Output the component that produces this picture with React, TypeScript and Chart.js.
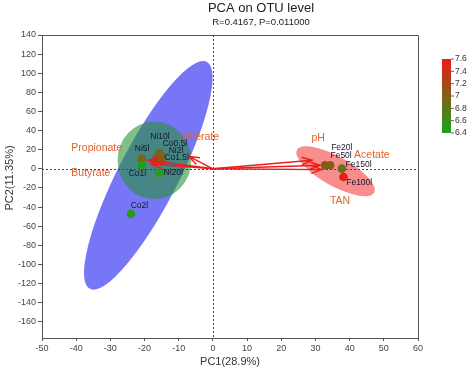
import React, { useEffect, useRef } from "react";
import { Chart, registerables } from "chart.js";
Chart.register(...registerables);

const FONT = "'Liberation Sans', Arial, Helvetica, sans-serif";

// Samples
const sampleNames = ["Ni10l", "Co0.5l", "Ni2l", "Co1.5l", "Ni5l", "Co1l", "Ni20l", "Co2l", "Fe20l", "Fe50l", "Fe150l", "Fe100l"];
const samplePC1 = [-15.7, -15.0, -16.5, -15.0, -20.8, -20.8, -15.7, -24.0, 32.8, 34.3, 37.7, 38.2];
const samplePC2 = [16.6, 13.0, 10.7, 8.9, 10.7, 3.7, -4.4, -47.0, 3.7, 3.7, 0.2, -8.6];
const samplePH = [6.9, 6.95, 7.05, 7.0, 6.95, 6.45, 6.45, 6.5, 7.0, 7.02, 6.85, 7.55];
const sampleLabelX = [-15.5, -11.1, -10.8, -10.6, -20.7, -22.1, -11.6, -21.5, 37.7, 37.5, 42.6, 42.8];
const sampleLabelY = [33.3, 26.4, 19.4, 11.7, 21.2, -5, -4, -38.3, 22.2, 13.4, 4.7, -14.9];

// Environmental factor vectors
const envNames = ["Propionate", "Butyrate", "Valerate", "pH", "Acetate", "TAN"];
const envPC1 = [-19, -18, -7, 29, 31.3, 31.8];
const envPC2 = [9, 5, 13, 9, 3.7, -0.8];
const envLabelX = [-34, -35.7, -3.8, 30.8, 46.5, 37.2];
const envLabelY = [21.2, -4, 32.7, 31.7, 14, -33.7];

// Group confidence ellipses (center, end of major axis, minor semi-axis in PC1 units)
const ellCX = [-18.9, -17.1, 35.9];
const ellCY = [-6.8, 8.9, -2.6];
const ellEndX = [-1.8, -17.1, 24.6];
const ellEndY = [112, 49.5, 19.8];
const ellMinor = [8.8, 10.8, 4.3];
const ellColor = ["rgba(80,80,245,0.78)", "rgba(35,145,50,0.58)", "rgba(242,80,80,0.65)"];

// Ticks
const xTicks = [-50, -40, -30, -20, -10, 0, 10, 20, 30, 40, 50, 60];
const yTicks = [140, 120, 100, 80, 60, 40, 20, 0, -20, -40, -60, -80, -100, -120, -140, -160];
const colorbarTicks = [7.6, 7.4, 7.2, 7, 6.8, 6.6, 6.4];

const PH_MIN = 6.4;
const PH_MAX = 7.6;
const GREEN = [25, 165, 25];
const RED = [235, 25, 25];

function phColor(p: number): string {
  const t = Math.max(0, Math.min(1, (p - PH_MIN) / (PH_MAX - PH_MIN)));
  const c = GREEN.map((g, i) => Math.round(g + t * (RED[i] - g)));
  return `rgb(${c[0]},${c[1]},${c[2]})`;
}

const overlay = {
  id: "overlay",
  beforeDatasetsDraw(chart: any) {
    const { ctx, chartArea: a, scales } = chart;
    const x = scales.x;
    const y = scales.y;
    ctx.save();
    ctx.beginPath();
    ctx.rect(a.left, a.top, a.right - a.left, a.bottom - a.top);
    ctx.clip();
    for (let i = 0; i < ellCX.length; i++) {
      const cx = x.getPixelForValue(ellCX[i]);
      const cy = y.getPixelForValue(ellCY[i]);
      const ex = x.getPixelForValue(ellEndX[i]);
      const ey = y.getPixelForValue(ellEndY[i]);
      const ra = Math.hypot(ex - cx, ey - cy);
      const rb = Math.abs(x.getPixelForValue(ellMinor[i]) - x.getPixelForValue(0));
      const rot = Math.atan2(ey - cy, ex - cx);
      ctx.beginPath();
      ctx.ellipse(cx, cy, ra, rb, rot, 0, Math.PI * 2);
      ctx.fillStyle = ellColor[i];
      ctx.fill();
    }
    // zero lines
    ctx.setLineDash([2, 2]);
    ctx.strokeStyle = "#444";
    ctx.lineWidth = 1;
    const x0 = Math.round(x.getPixelForValue(0)) + 0.5;
    const y0 = Math.round(y.getPixelForValue(0)) + 0.5;
    ctx.beginPath();
    ctx.moveTo(x0, a.top);
    ctx.lineTo(x0, a.bottom);
    ctx.moveTo(a.left, y0);
    ctx.lineTo(a.right, y0);
    ctx.stroke();
    ctx.restore();
  },
  afterDatasetsDraw(chart: any) {
    const { ctx, scales } = chart;
    const x = scales.x;
    const y = scales.y;
    ctx.save();
    // arrows
    const ox = x.getPixelForValue(0);
    const oy = y.getPixelForValue(0);
    ctx.strokeStyle = "#ee1c1c";
    ctx.lineWidth = 1.4;
    for (let i = 0; i < envNames.length; i++) {
      const tx = x.getPixelForValue(envPC1[i]);
      const ty = y.getPixelForValue(envPC2[i]);
      const ang = Math.atan2(ty - oy, tx - ox);
      const hl = 11;
      const ha = 0.36;
      ctx.beginPath();
      ctx.moveTo(ox, oy);
      ctx.lineTo(tx, ty);
      ctx.moveTo(tx - hl * Math.cos(ang - ha), ty - hl * Math.sin(ang - ha));
      ctx.lineTo(tx, ty);
      ctx.lineTo(tx - hl * Math.cos(ang + ha), ty - hl * Math.sin(ang + ha));
      ctx.stroke();
    }
    // env labels
    ctx.font = `10.5px ${FONT}`;
    ctx.fillStyle = "#e0622c";
    ctx.textAlign = "center";
    ctx.textBaseline = "middle";
    for (let i = 0; i < envNames.length; i++) {
      ctx.fillText(envNames[i], x.getPixelForValue(envLabelX[i]), y.getPixelForValue(envLabelY[i]));
    }
    // sample labels
    ctx.font = `8.5px ${FONT}`;
    ctx.fillStyle = "#15152e";
    for (let i = 0; i < sampleNames.length; i++) {
      ctx.fillText(sampleNames[i], x.getPixelForValue(sampleLabelX[i]), y.getPixelForValue(sampleLabelY[i]));
    }
    ctx.restore();
  },
  afterDraw(chart: any) {
    const { ctx, chartArea: a } = chart;
    ctx.save();
    // frame top/right
    ctx.strokeStyle = "#555";
    ctx.lineWidth = 1;
    ctx.beginPath();
    ctx.moveTo(a.left, Math.round(a.top) + 0.5);
    ctx.lineTo(Math.round(a.right) + 0.5, Math.round(a.top) + 0.5);
    ctx.lineTo(Math.round(a.right) + 0.5, a.bottom);
    ctx.stroke();
    // titles
    ctx.fillStyle = "#222";
    ctx.textAlign = "center";
    ctx.textBaseline = "alphabetic";
    ctx.font = `13px ${FONT}`;
    ctx.fillText("PCA on OTU level", 261, 12);
    ctx.font = `9.5px ${FONT}`;
    ctx.fillText("R=0.4167, P=0.011000", 261, 25);
    // axis titles
    ctx.fillStyle = "#333";
    ctx.font = `11px ${FONT}`;
    ctx.textBaseline = "middle";
    ctx.fillText("PC1(28.9%)", (a.left + a.right) / 2, 362);
    ctx.save();
    ctx.translate(10, 178);
    ctx.rotate(-Math.PI / 2);
    ctx.fillText("PC2(11.35%)", 0, 0);
    ctx.restore();
    // colorbar
    const bx = 442;
    const bw = 9;
    const bt = 59;
    const bb = 133;
    const g = ctx.createLinearGradient(0, bt, 0, bb);
    g.addColorStop(0, phColor(PH_MAX));
    g.addColorStop(1, phColor(PH_MIN));
    ctx.fillStyle = g;
    ctx.fillRect(bx, bt, bw, bb - bt);
    ctx.font = `8.5px ${FONT}`;
    ctx.textAlign = "left";
    ctx.fillStyle = "#333";
    ctx.strokeStyle = "#666";
    for (const v of colorbarTicks) {
      const py = bb - ((v - PH_MIN) / (PH_MAX - PH_MIN)) * (bb - bt);
      ctx.beginPath();
      ctx.moveTo(bx + bw, py);
      ctx.lineTo(bx + bw + 3, py);
      ctx.stroke();
      ctx.fillText(String(v), bx + bw + 4, py);
    }
    ctx.restore();
  },
};

export default function App() {
  const ref = useRef<HTMLCanvasElement | null>(null);
  useEffect(() => {
    if (!ref.current) return;
    const chart = new Chart(ref.current, {
      type: "scatter",
      data: {
        datasets: [
          {
            label: "samples",
            data: samplePC1.map((v, i) => ({ x: v, y: samplePC2[i] })),
            pointBackgroundColor: samplePH.map(phColor),
            pointBorderWidth: 0,
            pointRadius: 4.3,
          },
        ],
      },
      options: {
        responsive: false,
        maintainAspectRatio: false,
        animation: false,
        layout: { padding: { top: 35, right: 56, left: 0, bottom: 0 } },
        plugins: { legend: { display: false }, tooltip: { enabled: false }, title: { display: false } },
        scales: {
          x: {
            type: "linear",
            min: -50,
            max: 60,
            afterBuildTicks: (s: any) => {
              s.ticks = xTicks.map((v) => ({ value: v }));
            },
            afterFit: (s: any) => {
              s.height = 32;
            },
            ticks: { font: { size: 9, family: FONT }, color: "#444", padding: 2, maxRotation: 0, autoSkip: false },
            grid: { drawOnChartArea: false, tickLength: 3, color: "#555" },
            border: { color: "#555", width: 1 },
          },
          y: {
            type: "linear",
            min: -177,
            max: 140,
            afterBuildTicks: (s: any) => {
              s.ticks = yTicks.map((v) => ({ value: v }));
            },
            afterFit: (s: any) => {
              s.width = 42;
            },
            ticks: { font: { size: 9, family: FONT }, color: "#444", padding: 2, autoSkip: false },
            grid: { drawOnChartArea: false, tickLength: 4, color: "#555" },
            border: { color: "#555", width: 1 },
          },
        },
      },
      plugins: [overlay],
    });
    return () => chart.destroy();
  }, []);
  return (
    <div style={{ position: "absolute", left: 0, top: 0, width: 474, height: 370, background: "#fff" }}>
      <canvas ref={ref} width={474} height={370} style={{ display: "block" }} />
    </div>
  );
}
